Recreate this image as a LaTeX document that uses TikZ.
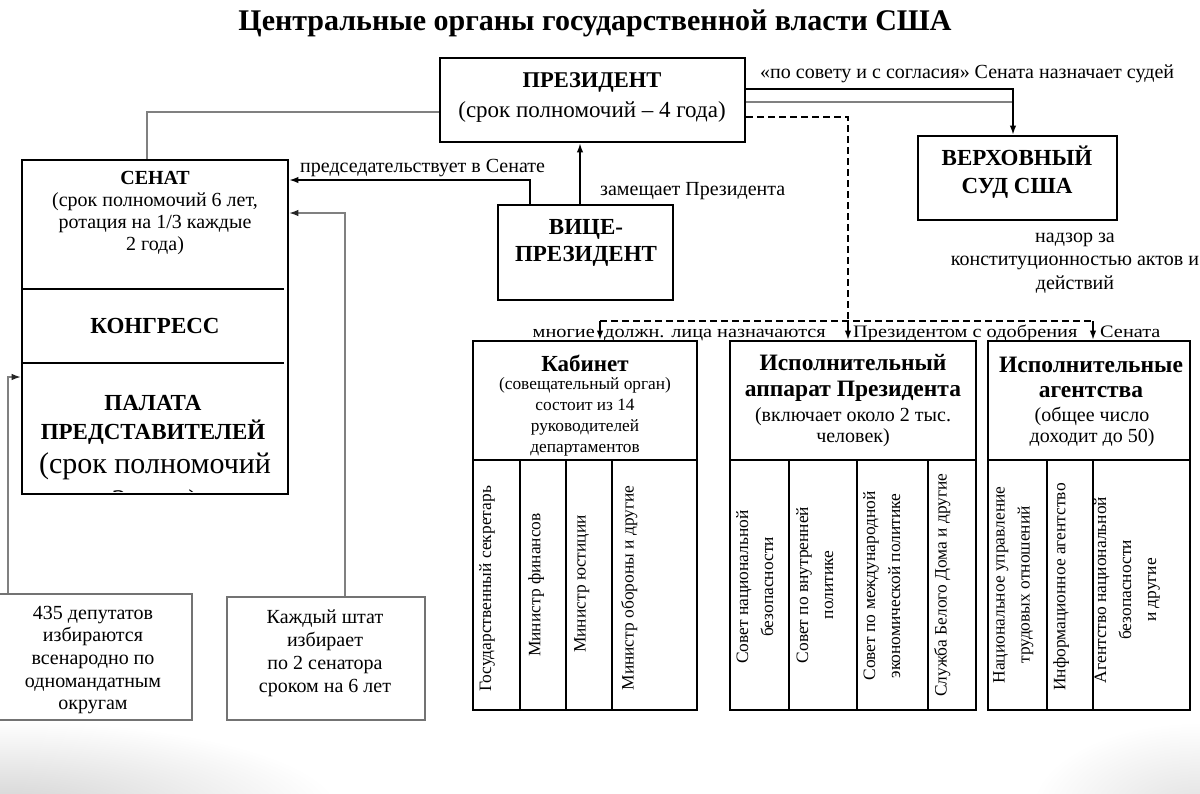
\documentclass[tikz,border=0pt]{standalone}
\usepackage{fontspec}
\setmainfont{Liberation Serif}
\newfontfamily\widefont{Liberation Serif}[FakeStretch=1.16]
\usetikzlibrary{arrows.meta}
\newcommand{\fs}[2]{\fontsize{#1}{#2}\selectfont}
\begin{document}
\begin{tikzpicture}[x=1pt,y=-1pt,
  box/.style={draw, line width=2.8pt, inner sep=0pt},
  cell/.style={line width=1.4pt},
  gbox/.style={draw=black!55, line width=1.2pt, inner sep=0pt},
  ln/.style={line width=1.5pt},
  gl/.style={draw=black!50, line width=1.1pt},
  tip/.style={-{Latex[length=9pt,width=6.5pt]}},
  gtip/.style={-{Latex[length=9pt,width=6.5pt,color=black!85]}},
  dsh/.style={line width=1.5pt, dash pattern=on 7pt off 4pt},
  hd/.style={font=\bfseries\fs{23}{26}, align=center, inner sep=0pt},
  tx/.style={font=\fs{20}{22}, align=center, inner sep=0pt},
  lbl/.style={font=\fs{20}{22}, inner sep=0pt},
  wl/.style={font=\widefont\fs{17.5}{20}, inner sep=0pt},
  rt/.style={rotate=90, anchor=north, align=center, inner sep=0pt, font=\fs{17.4}{25}},
]
\useasboundingbox (0,0) rectangle (1200,793);
\fill[white] (0,0) rectangle (1200,793);
\shade[inner color=black!18, outer color=white] (0,812) ellipse [x radius=340pt, y radius=92pt];
\shade[inner color=black!12, outer color=white] (1200,812) ellipse [x radius=170pt, y radius=90pt];

% title
\node[font=\bfseries\fs{30}{34}, inner sep=0pt] (title) at (595,23) {Центральные органы государственной власти США};

% President
\node[box, minimum width=305pt, minimum height=84pt] (pres) at (592.5,100) {};
\node[hd, font=\bfseries\fs{22.5}{25}] (presT) at (592,82) {ПРЕЗИДЕНТ};
\node[tx, font=\fs{23}{26}] (presS) at (592,112) {(срок полномочий – 4 года)};

% Congress
\node[box, minimum width=266pt, minimum height=334pt] (cong) at (155,327) {};
\draw[line width=1.8pt] (23,289) -- (284,289);
\draw[line width=1.8pt] (23,363) -- (284,363);
\node[tx, font=\fs{20}{21.7}] (senT) at (155,213) {\textbf{СЕНАТ}\\(срок полномочий 6 лет,\\ротация на 1/3 каждые\\2 года)};
\node[hd, font=\bfseries\fs{23}{24}] (kongT) at (155,326) {КОНГРЕСС};
\node[hd, font=\bfseries\fs{23}{29}] (palT) at (153,420) {ПАЛАТА\\ПРЕДСТАВИТЕЛЕЙ};
\begin{scope}
\clip (24,445) rectangle (286,491);
\node[tx, font=\fs{30}{37}, anchor=north] (palS) at (155,452) {(срок полномочий\\2 года)};
\end{scope}

% Vice-president
\node[box, minimum width=175pt, minimum height=95pt] (vp) at (585.5,252.5) {};
\node[hd, font=\bfseries\fs{23}{27}] (vpT) at (586,243) {ВИЦЕ-\\ПРЕЗИДЕНТ};

% Supreme court
\node[box, minimum width=199pt, minimum height=84pt] (court) at (1017.5,178) {};
\node[hd, font=\bfseries\fs{23}{28}] (courtT) at (1017,172) {ВЕРХОВНЫЙ\\СУД США};
\node[tx, font=\fs{20}{23.5}] (nadz) at (1075,263) {надзор за\\конституционностью актов и\\действий};

% Cabinet
\node[box, minimum width=224pt, minimum height=119pt] (cab) at (585,400.5) {};
\draw[cell] (473,460) -- (473,710) -- (697,710) -- (697,460);
\foreach \x in {520,566,612} \draw[cell] (\x,460) -- (\x,710);
\node[hd] (cabT) at (585,363) {Кабинет};
\node[tx, font=\fs{17.3}{21}] (cabS) at (585,417) {(совещательный орган)\\состоит из 14\\руководителей\\департаментов};
\node[rt] (c1) at (479,589) {Государственный секретарь};
\node[rt] (c2) at (528,585) {Министр финансов};
\node[rt] (c3) at (574,584) {Министр юстиции};
\node[rt] (c4) at (621,588) {Министр обороны и другие};

% Executive office
\node[box, minimum width=246pt, minimum height=119pt] (exe) at (853,400.5) {};
\draw[cell] (730,460) -- (730,710) -- (976,710) -- (976,460);
\foreach \x in {789,857,928} \draw[cell] (\x,460) -- (\x,710);
\node[hd, font=\bfseries\fs{23.5}{26.5}] (exeT) at (853,378) {Исполнительный\\аппарат Президента};
\node[tx, font=\fs{20}{21.5}] (exeS) at (853,427) {(включает около 2 тыс.\\человек)};
\node[rt] (e1) at (736,587) {Совет национальной\\безопасности};
\node[rt] (e2) at (796,585) {Совет по внутренней\\политике};
\node[rt] (e3) at (863,586) {Совет по международной\\экономической политике};
\node[rt] (e4) at (934,585) {Служба Белого Дома и другие};

% Agencies
\node[box, minimum width=202pt, minimum height=119pt] (agn) at (1089,400.5) {};
\draw[cell] (988,460) -- (988,710) -- (1190,710) -- (1190,460);
\foreach \x in {1047,1093} \draw[cell] (\x,460) -- (\x,710);
\node[hd, font=\bfseries\fs{23.5}{25}] (agnT) at (1091,377.5) {Исполнительные\\агентства};
\node[tx, font=\fs{20}{21.5}] (agnS) at (1092,427) {(общее число\\доходит до 50)};
\node[rt] (a1) at (993,585) {Национальное управление\\трудовых отношений};
\node[rt] (a2) at (1053,587) {Информационное агентство};
\node[rt] (a3) at (1094,590) {Агентство национальной\\безопасности\\и другие};

% bottom-left boxes
\node[gbox, minimum width=194pt, minimum height=126pt] (dep) at (95,657) {};
\node[tx, font=\fs{20}{22.6}] (depT) at (93,660) {435 депутатов\\избираются\\всенародно по\\одномандатным\\округам};
\node[gbox, minimum width=198pt, minimum height=123pt] (st) at (326,658.5) {};
\node[tx, font=\fs{20}{23}] (stT) at (325,653) {Каждый штат\\избирает\\по 2 сенатора\\сроком на 6 лет};

% connectors
\coordinate (sp) at (147,112);
\draw[gl] (pres.west |- sp) -| (sp |- cong.north);

\coordinate (vs) at (530,180);
\draw[ln, tip] (vs |- vp.north) |- (cong.east |- vs);
\node[lbl, anchor=south west] (l1) at (300,177) {председательствует в Сенате};

\coordinate (vpx) at (580,0);
\draw[ln, tip] (vpx |- vp.north) -- (vpx |- pres.south);
\node[lbl, anchor=west] (l2) at (600,191) {замещает Президента};

\coordinate (ss) at (345,213);
\draw[gl, gtip] (ss |- st.north) |- (cong.east |- ss);

\coordinate (dh) at (8,377);
\draw[gl, gtip] (dh |- dep.north) |- (cong.west |- dh);

\coordinate (pc) at (1013,89);
\coordinate (pc2) at (1013,102);
\draw[gl] (pres.east |- pc2) -- (pc2);
\draw[ln, tip] (pres.east |- pc) -| (pc |- court.north);
\node[lbl, anchor=west] (l3) at (760,74) {«по совету и с согласия» Сената назначает судей};

\coordinate (dj) at (848,117);
\coordinate (dl) at (600,321);
\coordinate (dr) at (1093,321);
\draw[dsh] (pres.east |- dj) -- (dj) -- (dj |- dl);
\draw[dsh] (dl) -- (dr);
\draw[ln, tip] (dl) -- (dl |- cab.north);
\draw[ln, tip] (dj |- dl) -- (dj |- exe.north);
\draw[ln, tip] (dr) -- (dr |- agn.north);
\node[wl, anchor=base east] (l4) at (595,337) {многие};
\node[wl, anchor=base west] (l5) at (604,337) {должн. лица назначаются};
\node[wl, anchor=base west] (l6) at (853,337) {Президентом с одобрения};
\node[wl, anchor=base west] (l7) at (1100,337) {Сената};
\end{tikzpicture}
\end{document}
